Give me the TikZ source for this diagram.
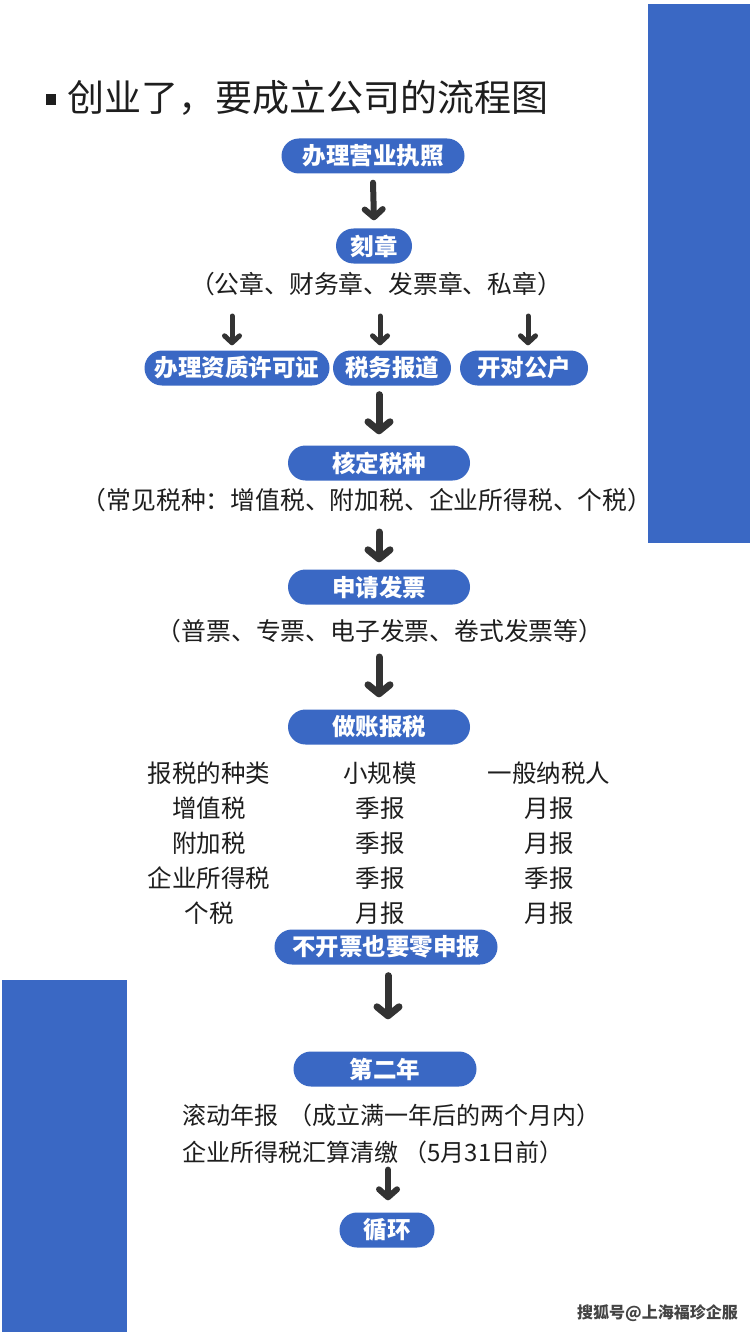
\documentclass[tikz,border=0pt]{standalone}
\usepackage{fontspec}
\setmainfont{Noto Sans CJK SC}
\usetikzlibrary{arrows.meta}
\definecolor{pillblue}{HTML}{3A68C4}
\definecolor{ink}{HTML}{1E1E1E}
\definecolor{arrowgray}{HTML}{333333}
\definecolor{markgray}{HTML}{444444}
\tikzset{
  pill/.style={fill=pillblue, text=white, font=\bfseries\fontsize{23.5}{23.5}\selectfont,
    rounded corners=17.5pt, minimum height=35pt, inner sep=0pt},
  plain/.style={text=ink, font=\fontsize{24.8}{24.8}\selectfont, inner sep=0pt},
  cell/.style={text=ink, font=\fontsize{24.5}{24.5}\selectfont, inner sep=0pt},
  note/.style={text=ink, font=\fontsize{24}{24}\selectfont, inner sep=0pt, anchor=west},
  band/.style={fill=pillblue, draw=none},
  bigarrow/.style={draw=arrowgray, line width=7pt, line cap=round,
    -{Straight Barb[length=9pt,width=22pt,round]}},
  midarrow/.style={draw=arrowgray, line width=6pt, line cap=round,
    -{Straight Barb[length=8pt,width=18pt,round]}},
  smallarrow/.style={draw=arrowgray, line width=5pt, line cap=round,
    -{Straight Barb[length=7pt,width=15pt,round]}},
}
\begin{document}
\begin{tikzpicture}[x=1pt,y=-1pt]
\useasboundingbox (0,0) rectangle (750,1332);
\fill[white] (0,0) rectangle (750,1332);
% side bands
\fill[band] (648,4) rectangle (750,543);
\fill[band] (2,980) rectangle (127,1332);
% title
\fill[ink] (46,94) rectangle (56,105);
\node[anchor=west, text=ink, font=\fontsize{37}{37}\selectfont, inner sep=0pt] (title) at (67,98) {创业了，要成立公司的流程图};
% flow nodes
\node[pill, minimum width=183pt] (lic) at (373,156) {办理营业执照};
\node[pill, minimum width=76pt] (seal) at (374,246) {刻章};
\node[plain] (sealtxt) at (376,284) {（公章、财务章、发票章、私章）};
\node[pill, minimum width=185pt] (p1) at (237,368) {办理资质许可证};
\node[pill, minimum width=118pt] (p2) at (392,368) {税务报道};
\node[pill, minimum width=128pt] (p3) at (524,368) {开对公户};
\node[pill, minimum width=182pt] (tax) at (379,463) {核定税种};
\node[plain] (taxtxt) at (367,500) {（常见税种：增值税、附加税、企业所得税、个税）};
\node[pill, minimum width=182pt] (inv) at (379,587) {申请发票};
\node[plain] (invtxt) at (380,631) {（普票、专票、电子发票、卷式发票等）};
\node[pill, minimum width=182pt] (book) at (379,727) {做账报税};
% table
\node[cell] (h1) at (209,773) {报税的种类};
\node[cell] (h2) at (380,773) {小规模};
\node[cell] (h3) at (549,773) {一般纳税人};
\node[cell] (r1a) at (209,808) {增值税};
\node[cell] (r1b) at (380,808) {季报};
\node[cell] (r1c) at (549,808) {月报};
\node[cell] (r2a) at (209,843) {附加税};
\node[cell] (r2b) at (380,843) {季报};
\node[cell] (r2c) at (549,843) {月报};
\node[cell] (r3a) at (209,878) {企业所得税};
\node[cell] (r3b) at (380,878) {季报};
\node[cell] (r3c) at (549,878) {季报};
\node[cell] (r4a) at (209,913) {个税};
\node[cell] (r4b) at (380,913) {月报};
\node[cell] (r4c) at (549,913) {月报};
\node[pill, minimum width=223pt] (zero) at (386,947) {不开票也要零申报};
\node[pill, minimum width=183pt] (year2) at (385,1069) {第二年};
\node[note] (l1) at (182,1115) {滚动年报\ \ （成立满一年后的两个月内）};
\node[note] (l2) at (182,1152) {企业所得税汇算清缴\ （5月31日前）};
\node[pill, minimum width=95pt] (loop) at (387,1230) {循环};
% watermark
\node[text=markgray, font=\bfseries\fontsize{16}{16}\selectfont, inner sep=0pt, anchor=east] (mark) at (738,1313) {搜狐号@上海福珍企服};
% arrows
\draw[midarrow] ([yshift=-9pt]lic.south) -- ([yshift=8pt]seal.north);
\draw[smallarrow] ([yshift=-20pt]sealtxt.south -| 232,0) -- ([yshift=5pt]p1.north -| 232,0);
\draw[smallarrow] ([yshift=-20pt]sealtxt.south -| 380,0) -- ([yshift=5pt]p2.north -| 380,0);
\draw[smallarrow] ([yshift=-20pt]sealtxt.south -| 528,0) -- ([yshift=5pt]p3.north -| 528,0);
\draw[bigarrow] ([yshift=-9pt]p2.south -| tax.north) -- ([yshift=11pt]tax.north);
\draw[bigarrow] ([yshift=-20pt]taxtxt.south -| inv.north) -- ([yshift=7pt]inv.north);
\draw[bigarrow] ([yshift=-14pt]invtxt.south -| book.north) -- ([yshift=12pt]book.north);
\draw[bigarrow] ([yshift=-11pt]zero.south -| 388,0) -- ([yshift=32pt]year2.north -| 388,0);
\draw[midarrow] ([yshift=-6pt]l2.south -| 388,0) -- ([yshift=12pt]loop.north -| 388,0);
\end{tikzpicture}
\end{document}
